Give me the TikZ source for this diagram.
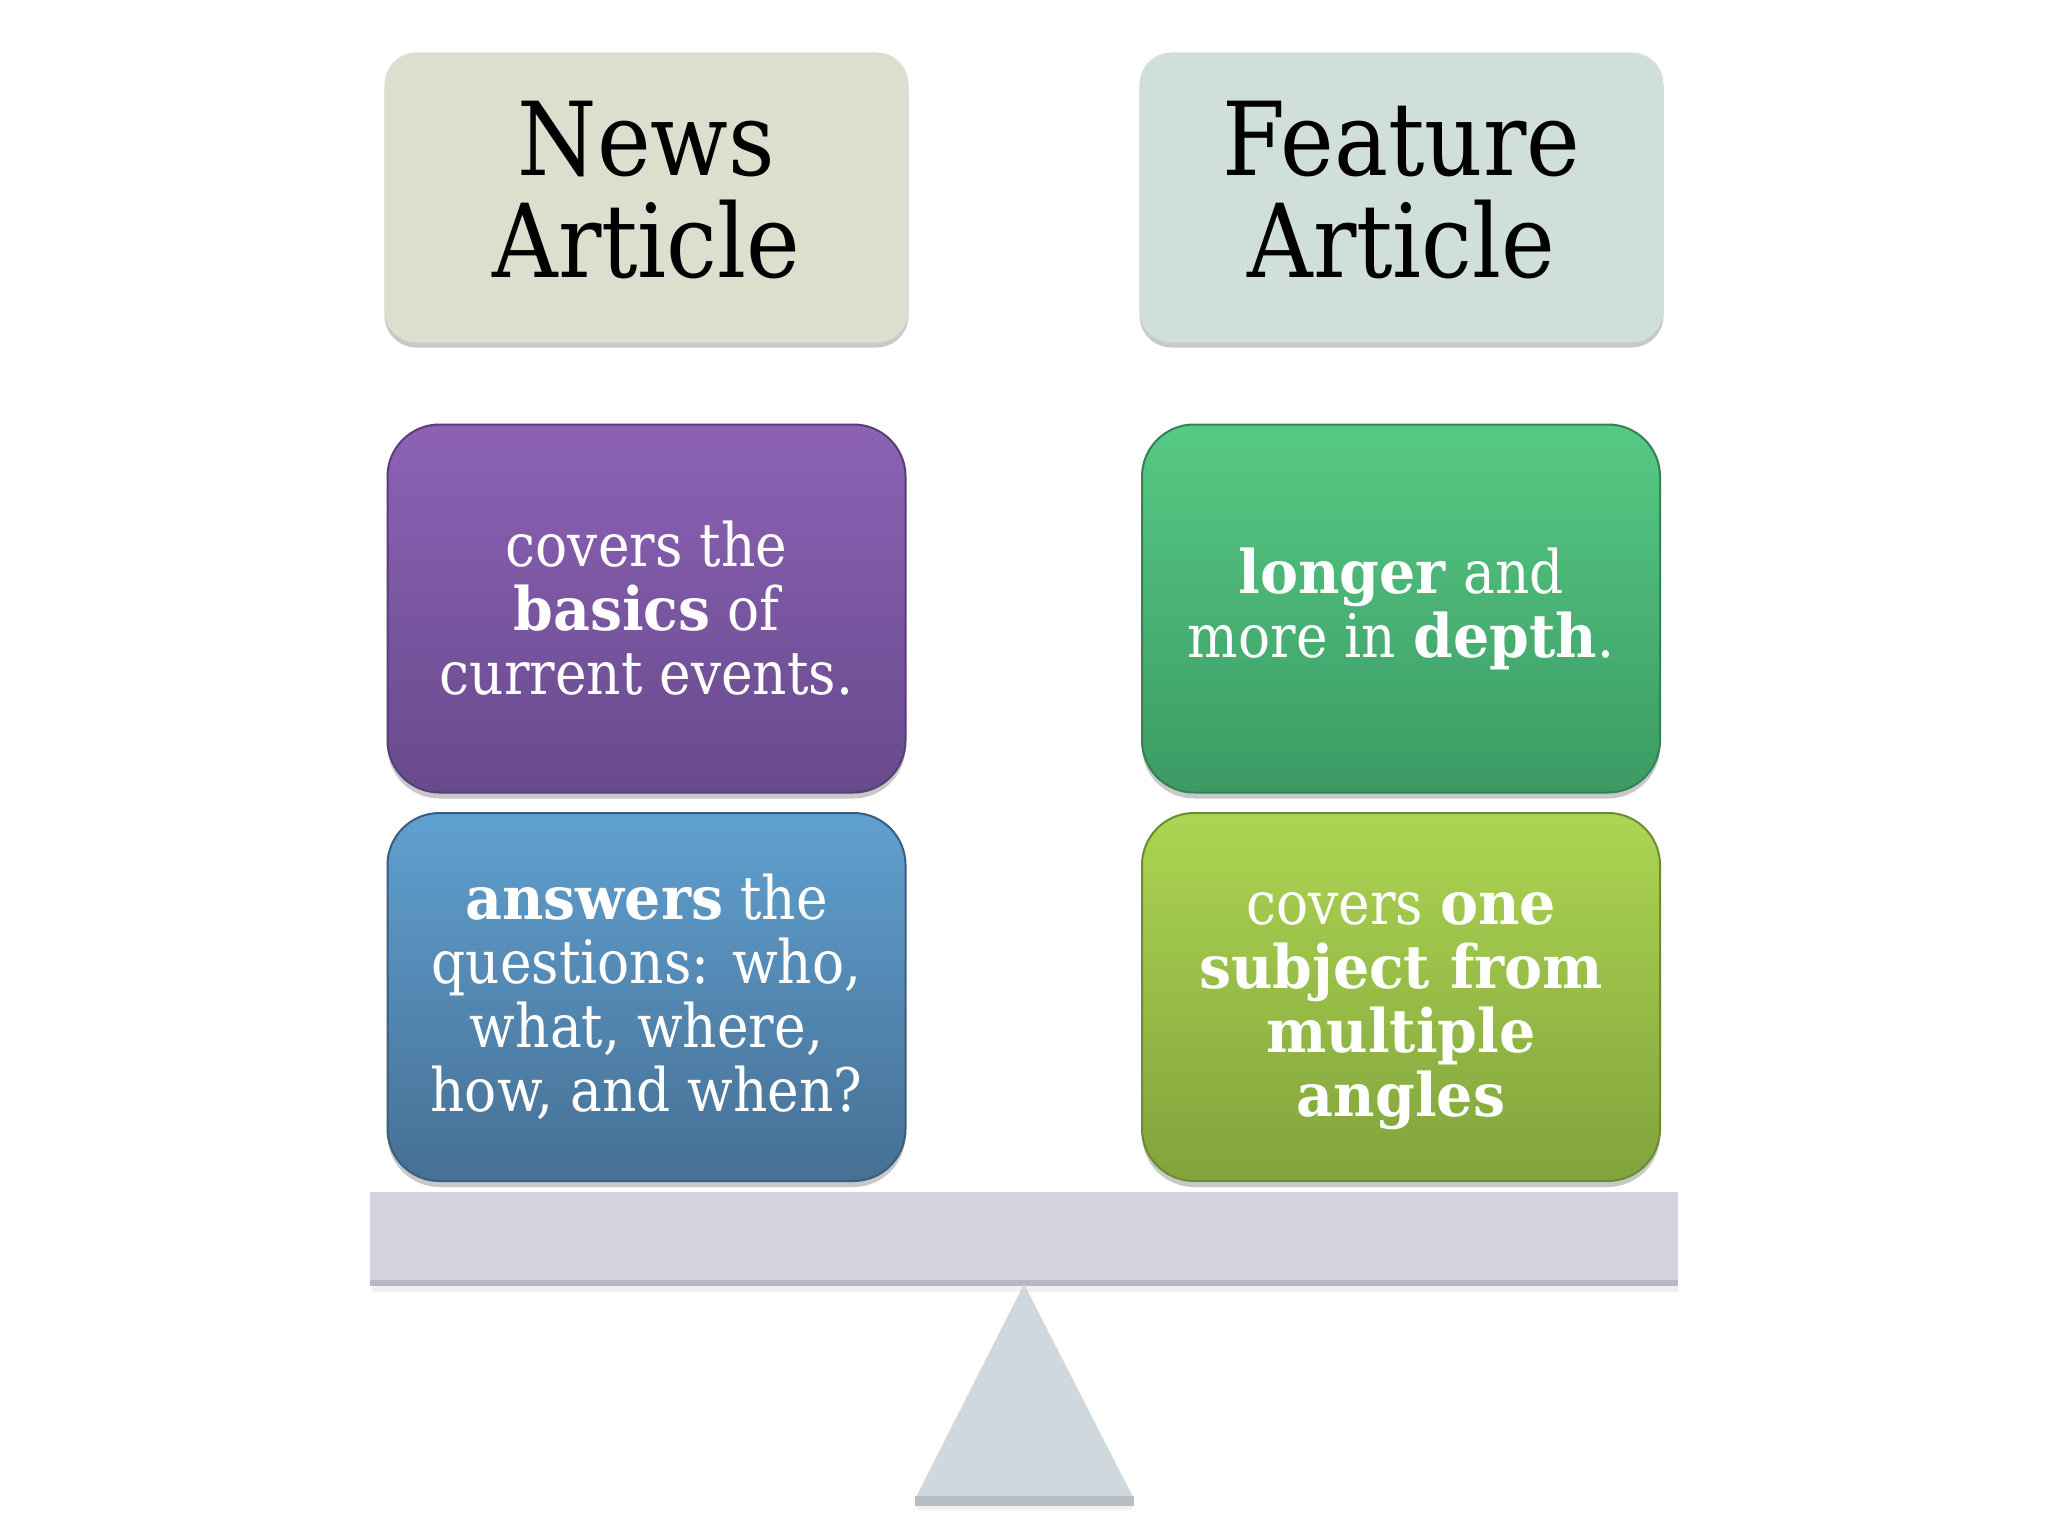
\documentclass[tikz,border=0pt]{standalone}
\usepackage{fontspec}
\setmainfont[FakeStretch=0.89,BoldFeatures={FakeStretch=0.95}]{DejaVu Serif}
\usetikzlibrary{shadows}
\definecolor{newsbg}{RGB}{218,224,205}
\definecolor{featbg}{RGB}{208,224,216}
\definecolor{purtop}{RGB}{141,98,182}
\definecolor{purbot}{RGB}{103,74,140}
\definecolor{purline}{RGB}{88,62,120}
\definecolor{blutop}{RGB}{96,160,208}
\definecolor{blubot}{RGB}{70,111,147}
\definecolor{bluline}{RGB}{58,94,126}
\definecolor{grntop}{RGB}{86,202,132}
\definecolor{grnbot}{RGB}{60,154,100}
\definecolor{grnline}{RGB}{50,130,84}
\definecolor{limtop}{RGB}{172,213,82}
\definecolor{limbot}{RGB}{129,163,60}
\definecolor{limline}{RGB}{108,140,50}
\definecolor{beam}{RGB}{211,211,222}
\definecolor{beamdark}{RGB}{182,183,195}
\definecolor{tri}{RGB}{207,216,222}
\definecolor{tridark}{RGB}{184,190,198}
\tikzset{
  header/.style={rounded corners=16pt, minimum width=262pt, minimum height=145pt,
    font=\fontsize{51}{51}\selectfont, align=center, text=black,
    drop shadow={shadow xshift=0pt, shadow yshift=-2.5pt, opacity=0.35, fill=black!60}},
  card/.style={rounded corners=26pt, minimum width=259pt, minimum height=184pt,
    font=\fontsize{30}{32}\selectfont, align=center, text=white, line width=1pt,
    drop shadow={shadow xshift=0pt, shadow yshift=-3pt, opacity=0.3, fill=black!70}}
}
\newcommand{\dropstrut}{\rule[-8pt]{0pt}{8pt}}
\begin{document}
\begin{tikzpicture}[x=0.5pt,y=-0.5pt]
\useasboundingbox (0,0) rectangle (2048,1536);
\fill[white] (0,0) rectangle (2048,1536);
\node[header, fill=newsbg] (news) at (646.5,197.5) {News\\Article\dropstrut};
\node[header, fill=featbg] (feat) at (1401.5,197.5) {Feature\\Article\dropstrut};
\node[card, top color=purtop, bottom color=purbot, draw=purline] (basics) at (646.5,608.5)
  {covers the\\\textbf{basics} of\\current events.};
\node[card, top color=blutop, bottom color=blubot, draw=bluline] (answers) at (646.5,997)
  {\textbf{answers} the\\questions: who,\\what, where,\\how, and when?};
\node[card, top color=grntop, bottom color=grnbot, draw=grnline] (longer) at (1401,608.5)
  {\textbf{longer} and\\more in \textbf{depth}.};
\node[card, top color=limtop, bottom color=limbot, draw=limline] (angles) at (1401,997)
  {\rule{0pt}{30pt}covers \textbf{one}\\\textbf{subject from}\\\textbf{multiple}\\\textbf{angles}};
% balance beam
\fill[black!6] (372,1286) rectangle (1678,1292);
\fill[beam] (370,1192) rectangle (1678,1281);
\fill[beamdark] (370,1280) rectangle (1678,1286);
% fulcrum
\coordinate (apex) at (1024,1284);
\coordinate (bl) at (915,1499);
\coordinate (br) at (1134,1499);
\fill[tri] (apex) -- (br) -- (bl) -- cycle;
\fill[tridark] (915,1496) rectangle (1134,1506);
\fill[black!5] (917,1506) rectangle (1132,1510);
\end{tikzpicture}
\end{document}
